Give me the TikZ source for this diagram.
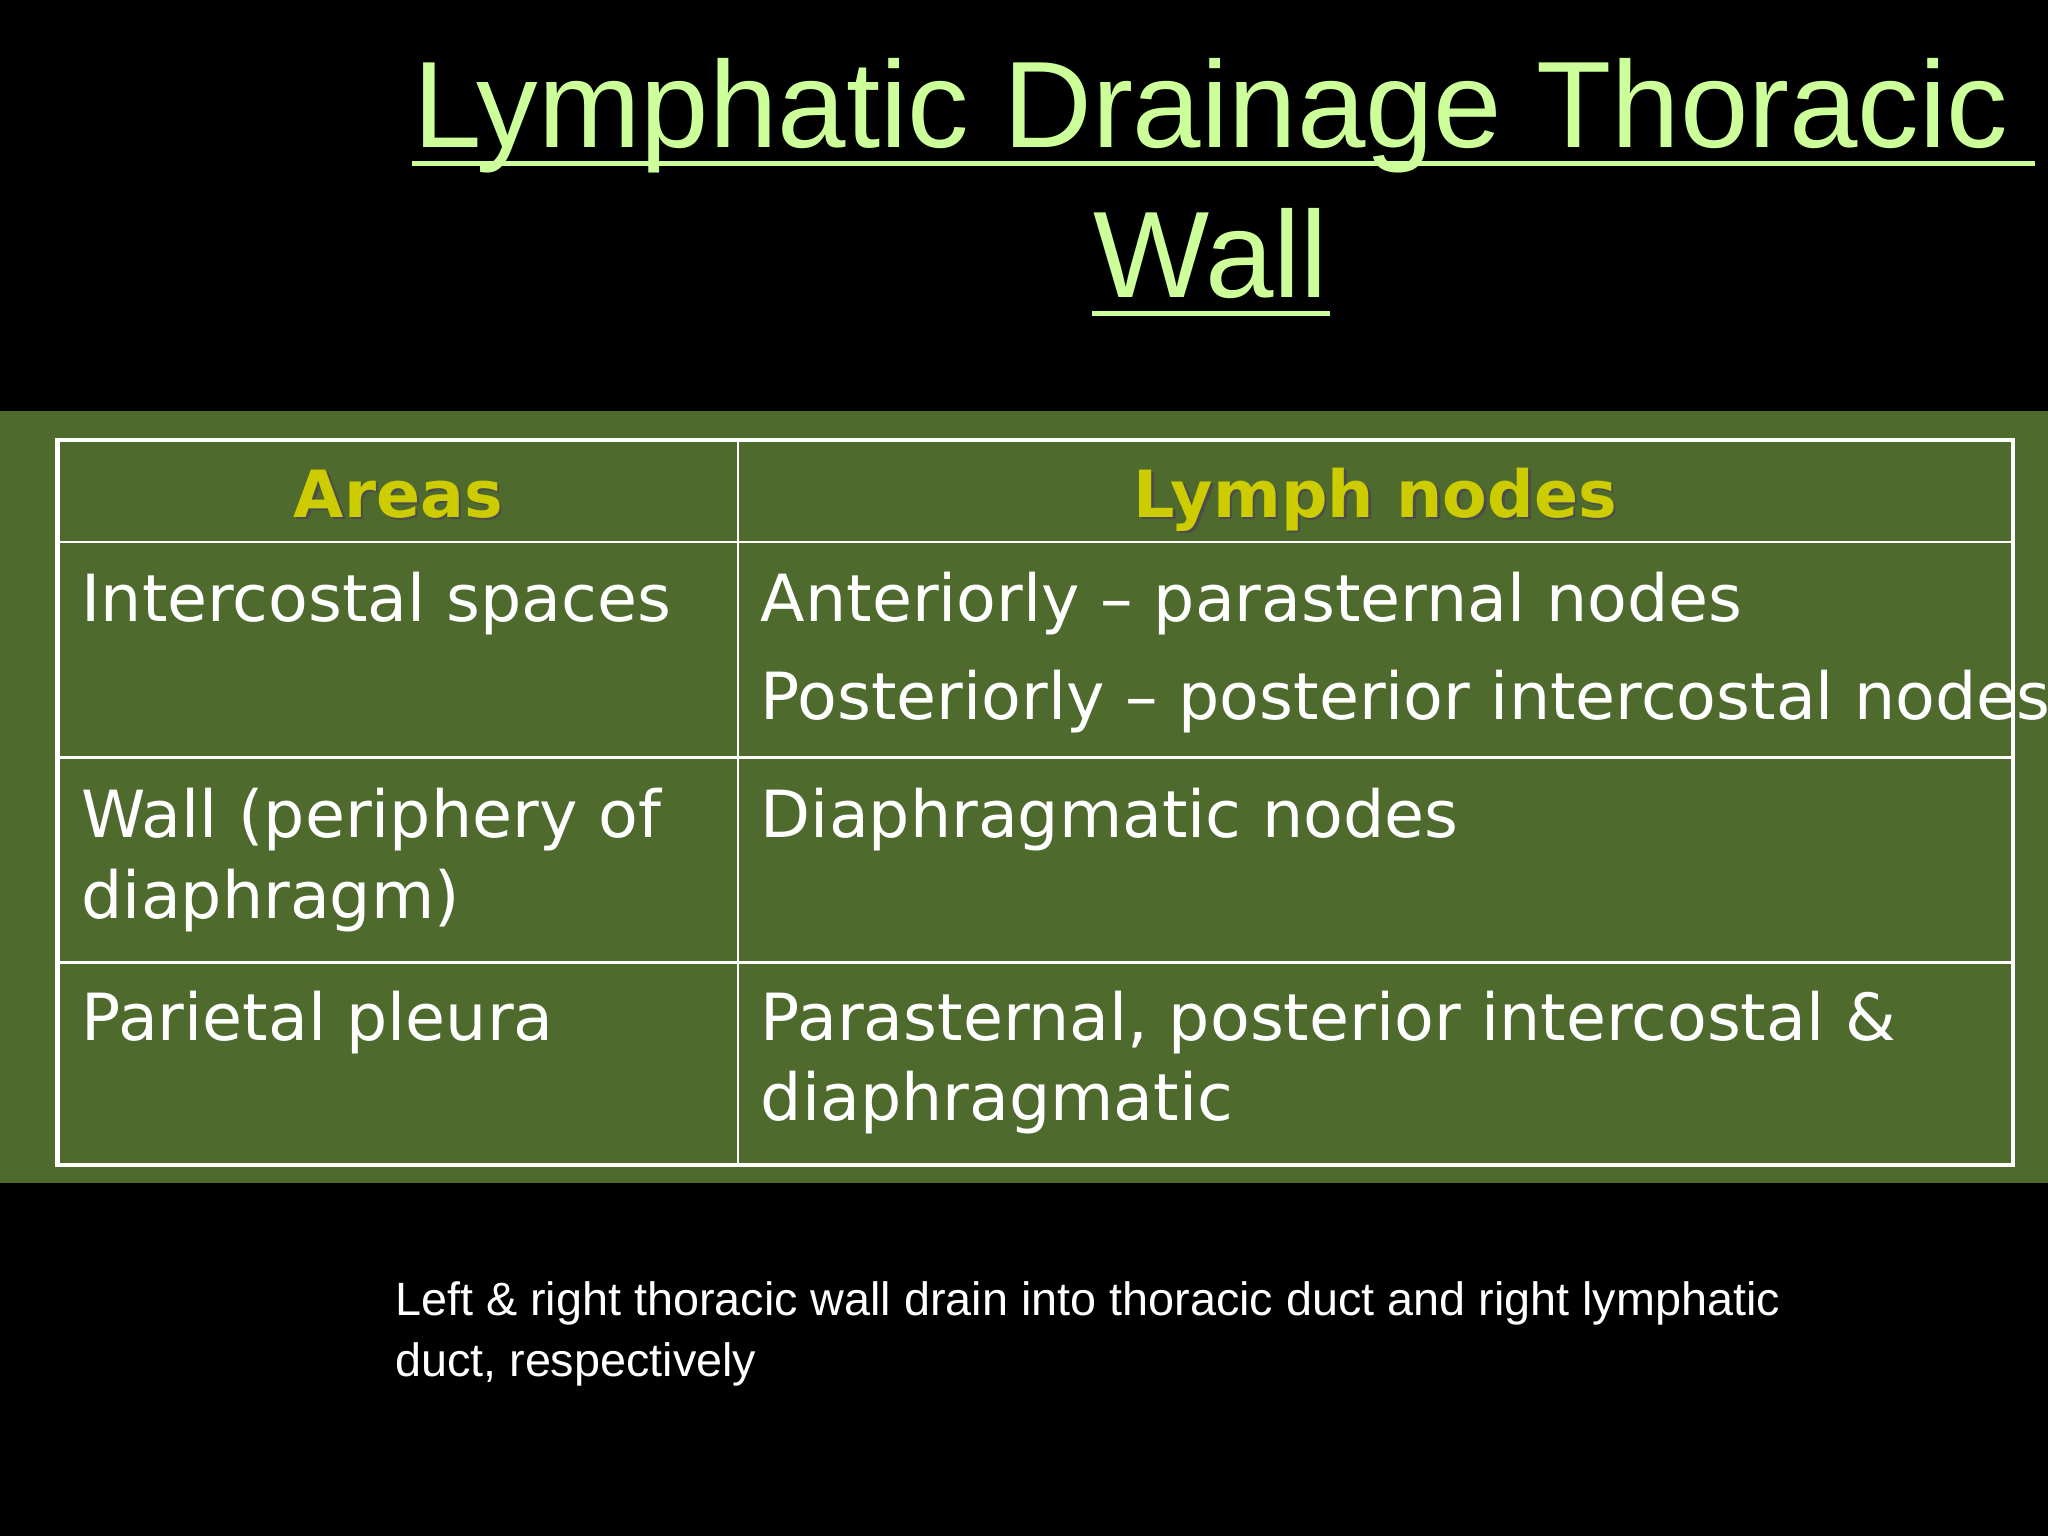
\documentclass[tikz,border=0pt]{standalone}
\usepackage{fontspec}
\setmainfont{DejaVu Sans}
\newfontfamily\titlefont{Liberation Sans}
\newfontfamily\footfont{Liberation Sans}
\definecolor{bandgreen}{HTML}{4F6A2D}
\definecolor{titlegreen}{HTML}{CCFF99}
\definecolor{headyellow}{HTML}{CCCC00}
\tikzset{
  cell/.style={anchor=base west,text=white,inner sep=0pt,font=\fontsize{18.5}{22}\selectfont},
  head/.style={anchor=base,inner sep=0pt,font=\bfseries\fontsize{18.5}{22}\selectfont},
  ttl/.style={anchor=base,inner sep=0pt,text=titlegreen,font=\titlefont\fontsize{35}{40}\selectfont},
}
\begin{document}
\begin{tikzpicture}[x=0.013061cm,y=-0.013061cm]
\useasboundingbox (0,0) rectangle (1568,1176);
\fill[black] (0,0) rectangle (1568,1176);
\fill[bandgreen] (0,315) rectangle (1568,906);
% title
\node[ttl] (t1) at (927,113) {Lymphatic Drainage Thoracic};
\node[ttl] (t2) at (927,228) {Wall};
\draw[titlegreen,line width=1.3pt] (t1.base west)++(0,12) -- ++(1242,0);
\draw[titlegreen,line width=1.3pt] (836,240) -- (1018,240);
% table
\draw[white,line width=1.2pt] (44,337) rectangle (1541,892);
\draw[white,line width=0.8pt] (565,337) -- (565,892);
\foreach \yy in {415,580,737} \draw[white,line width=0.8pt] (44,\yy) -- (1541,\yy);
\node[head,text=black!70] at (307,398) {Areas};
\node[head,text=headyellow] (h1) at (305,396) {Areas};
\node[head,text=black!70] at (1055,398) {Lymph nodes};
\node[head,text=headyellow] (h2) at (1053,396) {Lymph nodes};
\node[cell] (a1) at (62,476) {Intercostal spaces};
\node[cell] (b1) at (582,476) {Anteriorly – parasternal nodes};
\node[cell] (b2) at (582,551) {Posteriorly – posterior intercostal nodes};
\node[cell] (a2) at (62,641) {Wall (periphery of};
\node[cell] (a3) at (62,703) {diaphragm)};
\node[cell] (b3) at (582,641) {Diaphragmatic nodes};
\node[cell] (a4) at (62,797) {Parietal pleura};
\node[cell] (b4) at (582,797) {Parasternal, posterior intercostal \&};
\node[cell] (b5) at (582,858) {diaphragmatic};
% footnote
\node[anchor=base west,inner sep=0pt,text=white,font=\footfont\fontsize{13.3}{16}\selectfont] (f1) at (302,1007) {Left \& right thoracic wall drain into thoracic duct and right lymphatic};
\node[anchor=base west,inner sep=0pt,text=white,font=\footfont\fontsize{13.3}{16}\selectfont] (f2) at (302,1054) {duct, respectively};
\end{tikzpicture}
\end{document}
